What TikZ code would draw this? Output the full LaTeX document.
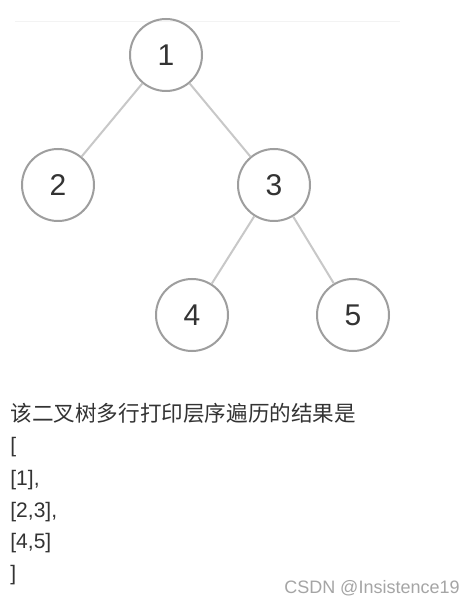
\documentclass[tikz,border=0pt]{standalone}
\usepackage{fontspec}
\setmainfont{Liberation Sans}
\newfontfamily\cjk{Noto Sans CJK SC}
\usetikzlibrary{positioning}
\usepackage{xcolor}
\definecolor{treeRing}{RGB}{158,158,158}
\definecolor{treeEdge}{RGB}{200,200,200}
\definecolor{treeInk}{RGB}{51,51,51}
\definecolor{treeMark}{RGB}{165,165,165}
\definecolor{treeRule}{RGB}{243,243,243}

\begin{document}
\begin{tikzpicture}[x=0.5pt, y=-0.5pt,
    treenode/.style={circle, draw=treeRing, line width=1pt, minimum size=36pt, inner sep=0pt,
      font=\fontsize{15}{18}\selectfont\color{treeInk}},
    treeedge/.style={draw=treeEdge, line width=1pt},
    listline/.style={anchor=west, inner sep=0pt, font=\fontsize{10.5}{12}\selectfont\color{treeInk}}]
    \useasboundingbox[fill=white] (0,0) rectangle (474,603);
    \draw[treeRule, line width=0.5pt] (15,22) -- (400,22);

    % the tree
    \node[treenode] (n1) at (166,55) {1};
    \node[treenode] (n2) at (58,185) {2};
    \node[treenode] (n3) at (274,185) {3};
    \node[treenode] (n4) at (192,315) {4};
    \node[treenode] (n5) at (353,315) {5};
    \draw[treeedge] (n1) -- (n2);
    \draw[treeedge] (n1) -- (n3);
    \draw[treeedge] (n3) -- (n4);
    \draw[treeedge] (n3) -- (n5);

    % the result
    \node[listline, font=\fontsize{10.8}{13}\selectfont\color{treeInk}\cjk] (caption) at (10,413)
      {该二叉树多行打印层序遍历的结果是};
    \node[listline] (open) at (10,447) {[};
    \node[listline] (row1) at (10,480) {[1],};
    \node[listline] (row2) at (10,512) {[2,3],};
    \node[listline] (row3) at (10,543) {[4,5]};
    \node[listline] (close) at (10,575) {]};
    \node[anchor=east, inner sep=0pt, font=\fontsize{9}{11}\selectfont\color{treeMark}] (mark) at (460,588)
      {CSDN @Insistence19};
  \end{tikzpicture}
\end{document}
